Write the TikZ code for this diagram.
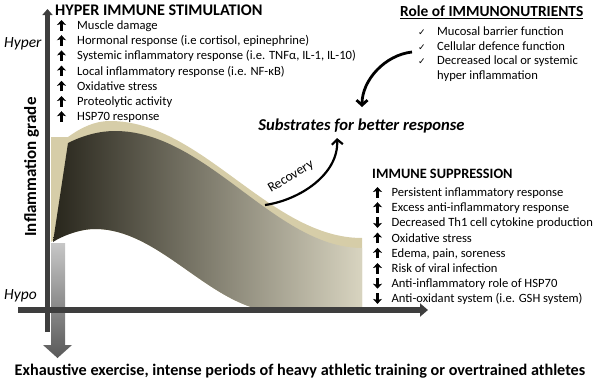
\documentclass[tikz,border=0pt]{standalone}
\usepackage{fontspec}
\setmainfont{Carlito}
\newfontfamily\dejavu{DejaVu Sans}
\usetikzlibrary{arrows.meta}
\definecolor{beige}{RGB}{214,205,168}
\definecolor{bandL}{RGB}{40,38,28}
\definecolor{bandM}{RGB}{125,122,104}
\definecolor{bandR}{RGB}{216,212,192}
\definecolor{axisgray}{RGB}{62,62,62}
\newcommand\chk{\makebox[19pt][l]{\dejavu\fontsize{9}{9}\selectfont ✓}}
\newcommand\myul[1]{\setbox0\hbox{#1}\rlap{\rule[-3pt]{\wd0}{1.3pt}}\box0}
\tikzset{
  item/.style={anchor=base west, inner sep=0pt, font=\fontsize{12.6}{15}\selectfont},
  ttl/.style={anchor=base west, inner sep=0pt},
  axisline/.style={draw=axisgray, line width=5.5pt},
  bend arrow/.style={draw=black, line width=2.2pt, -{Straight Barb[length=5pt,width=11pt]}},
  listarr/.style={draw=black, line width=2.2pt, -{Stealth[length=5pt,width=9pt,inset=1.2pt]}}
}
\begin{document}
\begin{tikzpicture}[x=1pt,y=-1pt]
\useasboundingbox (0,0) rectangle (598,383);
% band
\fill[beige] (51,242) -- (51,137) -- (68,137) .. controls (82,127) and (95,121) .. (110,121)
  .. controls (202,121) and (270,238) .. (362,238) -- (362,312) -- (280,312)
  .. controls (213,312) and (162,229) .. (95,229) .. controls (80,229) and (60,236) .. (51,242) -- cycle;
\shade[left color=bandL, middle color=bandM, right color=bandR]
  (53,242) -- (68,143) .. controls (84,135) and (100,131) .. (115,131)
  .. controls (207,131) and (275,248) .. (362,248) -- (362,312) -- (280,312)
  .. controls (213,312) and (162,229) .. (95,229) .. controls (80,229) and (62,236) .. (53,242) -- cycle;
% gray downward arrow
\shade[top color=black!22, bottom color=black!65]
  (51,243) -- (65,243) -- (65,345) -- (72,345) -- (57.5,358) -- (43,345) -- (51,345) -- cycle;
% axes
\coordinate (vb) at (47.5,332);
\coordinate (vt) at (47.5,9);
\coordinate (hl) at (18,310);
\coordinate (hr) at (428,310);
\draw[axisline, -{Triangle[width=10pt,length=6pt]}] (vb) -- (vt);
\draw[axisline, line width=6pt, -{Triangle[width=13pt,length=8pt]}] (hl) -- (hr);
% axis labels
\node[ttl, font=\itshape\fontsize{15.5}{18}\selectfont] (hyper) at (4,47) {Hyper};
\node[ttl, font=\itshape\fontsize{15.5}{18}\selectfont] (hypo) at (4,299) {Hypo};
\node[anchor=base, inner sep=0pt, rotate=90, font=\bfseries\fontsize{17}{20}\selectfont] (igr) at (36,167) {Inflammation grade};
% hyper immune stimulation
\node[ttl, font=\bfseries\fontsize{16.2}{20}\selectfont] (hyt) at (55,15) {HYPER IMMUNE STIMULATION};
\node[item] (h1) at (57,29.5) {\hspace{20pt}Muscle damage};
\node[item] (h2) at (57,44.7) {\hspace{20pt}Hormonal response (i.e cortisol, epinephrine)};
\node[item] (h3) at (57,59.9) {\hspace{20pt}Systemic inflammatory response (i.e. TNFα, IL-1, IL-10)};
\node[item] (h4) at (57,75.1) {\hspace{20pt}Local inflammatory response (i.e. NF-κB)};
\node[item] (h5) at (57,90.3) {\hspace{20pt}Oxidative stress};
\node[item] (h6) at (57,105.5) {\hspace{20pt}Proteolytic activity};
\node[item] (h7) at (57,120.7) {\hspace{20pt}HSP70 response};
% immunonutrients
\node[ttl, font=\bfseries\fontsize{15.4}{18}\selectfont] (rit) at (400,16) {\myul{Role of IMMUNONUTRIENTS}};
\node[item] (n1) at (418,35.3) {\chk Mucosal barrier function};
\node[item] (n2) at (418,50) {\chk Cellular defence function};
\node[item] (n3) at (418,64.7) {\chk Decreased local or systemic};
\node[item] (n4) at (437,79.4) {hyper inflammation};
\coordinate (ns) at (412,52);
\coordinate (ne) at (362,107);
\draw[bend arrow, line width=2.8pt] (ns) .. controls (385,55) and (362,80) .. (ne);
% substrates
\node[anchor=base, inner sep=0pt, font=\bfseries\itshape\fontsize{16.6}{20}\selectfont] (sub) at (361.5,130) {Substrates for better response};
% recovery
\coordinate (rs) at (265,205);
\coordinate (rt) at (337,138);
\draw[bend arrow] (rs) .. controls (300,200) and (339,174) .. (rt);
\node[inner sep=0pt, rotate=31, font=\fontsize{13.6}{16}\selectfont] (rec) at (291,177) {Recovery};
% immune suppression
\node[ttl, font=\bfseries\fontsize{14.3}{17}\selectfont] (ist) at (372,178) {IMMUNE SUPPRESSION};
\node[item] (s1) at (373,196.5) {\hspace{18.5pt}Persistent inflammatory response};
\node[item] (s2) at (373,211.7) {\hspace{18.5pt}Excess anti-inflammatory response};
\node[item] (s3) at (373,226.9) {\hspace{18.5pt}Decreased Th1 cell cytokine production};
\node[item] (s4) at (373,242.1) {\hspace{18.5pt}Oxidative stress};
\node[item] (s5) at (373,257.3) {\hspace{18.5pt}Edema, pain, soreness};
\node[item] (s6) at (373,272.5) {\hspace{18.5pt}Risk of viral infection};
\node[item] (s7) at (373,287.7) {\hspace{18.5pt}Anti-inflammatory role of HSP70};
\node[item] (s8) at (373,302.9) {\hspace{18.5pt}Anti-oxidant system (i.e. GSH system)};
% up / down markers
\foreach \nm in {h1,h2,h3,h4,h5,h6,h7,s1,s2,s4,s5,s6}
  \draw[listarr] ([shift={(4.5,1)}]\nm.base west) -- ++(0,-10.5);
\foreach \nm in {s3,s7,s8}
  \draw[listarr] ([shift={(4.5,-9.5)}]\nm.base west) -- ++(0,10.5);
% bottom caption
\node[anchor=base, inner sep=0pt, font=\bfseries\fontsize{16.2}{19}\selectfont] (cap) at (300,375) {Exhaustive exercise, intense periods of heavy athletic training or overtrained athletes};
\end{tikzpicture}
\end{document}
